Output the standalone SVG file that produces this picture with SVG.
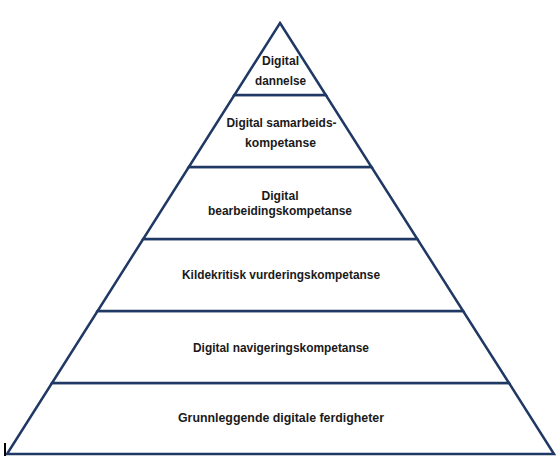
<svg xmlns="http://www.w3.org/2000/svg" width="560" height="467" viewBox="0 0 560 467">
  <style>
    .tier { fill: #ffffff; stroke: #203864; stroke-width: 2.5; stroke-linejoin: miter; }
    .lbl { font-family: "Liberation Sans", Arial, sans-serif; font-weight: bold; font-size: 12px; fill: #1a1a1a; text-anchor: middle; }
  </style>
  <rect width="560" height="467" fill="#ffffff"/>
  <g id="tier-6">
    <polygon class="tier" points="52,383 509,383 554,454 7,454"/>
    <text class="lbl" x="281" y="422" textLength="206" lengthAdjust="spacingAndGlyphs">Grunnleggende digitale ferdigheter</text>
  </g>
  <g id="tier-5">
    <polygon class="tier" points="97.6,311 463.1,311 509,383 52,383"/>
    <text class="lbl" x="281" y="352" textLength="176" lengthAdjust="spacingAndGlyphs">Digital navigeringskompetanse</text>
  </g>
  <g id="tier-4">
    <polygon class="tier" points="143.2,239 417.3,239 463.1,311 97.6,311"/>
    <text class="lbl" x="281" y="279" textLength="198" lengthAdjust="spacingAndGlyphs">Kildekritisk vurderingskompetanse</text>
  </g>
  <g id="tier-3">
    <polygon class="tier" points="188.8,167 371.5,167 417.3,239 143.2,239"/>
    <text class="lbl" x="280" y="200" textLength="37" lengthAdjust="spacingAndGlyphs">Digital</text>
    <text class="lbl" x="280" y="214.5" textLength="144" lengthAdjust="spacingAndGlyphs">bearbeidingskompetanse</text>
  </g>
  <g id="tier-2">
    <polygon class="tier" points="234.4,95 325.8,95 371.5,167 188.8,167"/>
    <text class="lbl" x="281.5" y="127" textLength="110" lengthAdjust="spacingAndGlyphs">Digital samarbeids-</text>
    <text class="lbl" x="280.5" y="147" textLength="71" lengthAdjust="spacingAndGlyphs">kompetanse</text>
  </g>
  <g id="tier-1">
    <polygon class="tier" points="280,23 325.8,95 234.4,95"/>
    <text class="lbl" x="280.5" y="65" textLength="37" lengthAdjust="spacingAndGlyphs">Digital</text>
    <text class="lbl" x="280.5" y="85" textLength="51" lengthAdjust="spacingAndGlyphs">dannelse</text>
  </g>
  <g id="connectors"></g>
  <rect x="4" y="443" width="2" height="13" fill="#000000"/>
</svg>
